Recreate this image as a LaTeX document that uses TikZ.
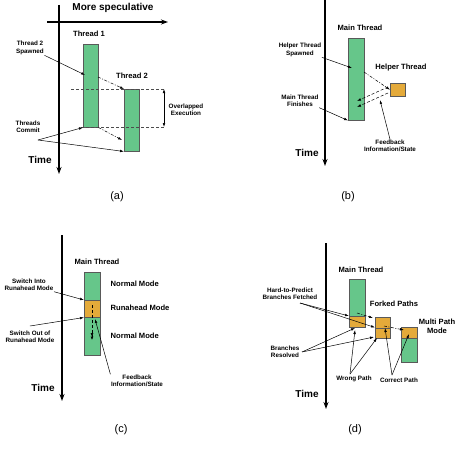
\documentclass[tikz,border=0pt]{standalone}
\usepackage{fontspec}
\setmainfont{Liberation Sans}
\usetikzlibrary{arrows.meta}
\definecolor{threadgreen}{RGB}{102,198,138}
\definecolor{modeorange}{RGB}{228,170,58}

\begin{document}
\begin{tikzpicture}[x=1pt, y=-1pt,
  lbl/.style={font=\fontsize{6.3}{7.4}\selectfont\bfseries, align=center, inner sep=0.5pt},
  head/.style={font=\fontsize{7.6}{9}\selectfont\bfseries, align=center, inner sep=0.5pt},
  big/.style={font=\fontsize{10}{12}\selectfont\bfseries, inner sep=0.5pt},
  sub/.style={font=\fontsize{11}{13}\selectfont, inner sep=0.5pt},
  axis/.style={line width=1.4pt, -{Stealth[length=7pt,width=5pt]}},
  ptr/.style={line width=0.5pt, -{Latex[length=4pt,width=2.6pt]}},
  spec/.style={ptr, dash pattern=on 3pt off 1.5pt on 1pt off 1.5pt},
  blk/.style={draw=black!65, line width=0.5pt, inner sep=0, minimum width=15pt, anchor=north west},
  gblk/.style={blk, fill=threadgreen},
  oblk/.style={blk, fill=modeorange},
  ]
\useasboundingbox (0,0) rectangle (474,452);

% (a) thread-level speculation
\coordinate (a0) at (59,5);
\coordinate (a1) at (59,174);
\coordinate (s0) at (47,22);
\coordinate (s1) at (168,22);
\draw[axis] (a0) -- (a1);
\draw[axis] (s0) -- (s1);
\node[big] (spec) at (113,8) {More speculative};
\node[big] (timea) at (40,160) {Time};
\node[gblk, minimum height=83pt] (t1) at (83,44) {};
\node[gblk, minimum height=62pt] (t2) at (124,89) {};
\node[head] (t1lbl) at (89,34) {Thread 1};
\node[head] (t2lbl) at (132,76) {Thread 2};
\coordinate (ov1l) at (71,89);
\coordinate (ov1r) at (165,89);
\coordinate (ov2l) at (81,127);
\coordinate (ov2r) at (165,127);
\draw[densely dashed, black!70, line width=0.4pt] (ov1l) -- (ov1r);
\draw[densely dashed, black!70, line width=0.4pt] (ov2l) -- (ov2r);
\draw[line width=0.5pt, {Latex[length=4pt,width=2.6pt]}-{Latex[length=4pt,width=2.6pt]}] (ov1r) ++(-1,0) coordinate (ovt) (ov2r) ++(-1,0) coordinate (ovb) (ovt) -- (ovb);
\node[lbl] (ovl) at (186,110) {Overlapped\\Execution};
\node[lbl] (spwn) at (30,48) {Thread 2\\Spawned};
\coordinate (t1sp) at (85,75);
\coordinate (t1spr) at (98,77);
\coordinate (t2end) at (122,140);
\draw[ptr] (spwn.south east) -- (t1sp);
\draw[spec] (t1spr) -- (t2.north west);
\draw[spec] (t1.south east) -- (t2end);
\node[lbl] (cmt) at (28,127) {Threads\\Commit};
\coordinate (cmo) at (38,140);
\draw[ptr] (cmo) -- (t1.south west);
\draw[ptr] (cmo) -- (t2.south west);
\node[sub] (capa) at (117,197) {(a)};

% (b) helper threads
\coordinate (b0) at (325,0);
\coordinate (b1) at (325,166);
\draw[axis] (b0) -- (b1);
\node[big] (timeb) at (307,153) {Time};
\node[gblk, minimum width=16pt, minimum height=82pt] (mtb) at (348,38) {};
\node[oblk, minimum height=13pt] (hlp) at (390,83) {};
\node[head] (mtblbl) at (360,28) {Main Thread};
\node[head] (hlplbl) at (401,68) {Helper Thread};
\node[lbl] (hspwn) at (300,50) {Helper Thread\\Spawned};
\coordinate (mtsp) at (352,68);
\coordinate (mtspr) at (364,72);
\draw[ptr] (hspwn.south east) -- (mtsp);
\draw[spec] (mtspr) -- (hlp.west);
\coordinate (fb1s) at (388,87);
\coordinate (fb1e) at (357,101);
\coordinate (fb2s) at (388,93);
\coordinate (fb2e) at (357,107);
\draw[ptr, densely dashed] (fb1s) -- (fb1e);
\draw[ptr, densely dashed] (fb2s) -- (fb2e);
\node[lbl] (fbb) at (390,146) {Feedback\\Information/State};
\coordinate (fbt) at (380,100);
\draw[ptr] (fbb.north) -- (fbt);
\node[lbl] (fin) at (300,101) {Main Thread\\Finishes};
\draw[ptr] (fin.south east) -- (mtb.south west);
\node[sub] (capb) at (348,197) {(b)};

% (c) runahead execution
\coordinate (c0) at (62,235);
\coordinate (c1) at (62,401);
\draw[axis] (c0) -- (c1);
\node[big] (timec) at (43,388) {Time};
\node[head] (mtclbl) at (97,262) {Main Thread};
\node[gblk, minimum width=16pt, minimum height=28pt] (nm1) at (84,272) {};
\node[oblk, minimum width=16pt, minimum height=17pt] (rh) at (84,300) {};
\node[gblk, minimum width=16pt, minimum height=38pt] (nm2) at (84,317) {};
\node[head, anchor=west] (nm1lbl) at (110,284) {Normal Mode};
\node[head, anchor=west] (rhlbl) at (110,308) {Runahead Mode};
\node[head, anchor=west] (nm2lbl) at (110,336) {Normal Mode};
\node[lbl] (swin) at (29,285) {Switch Into\\Runahead Mode};
\draw[ptr] (swin.south east) -- (rh.north west);
\node[lbl] (swout) at (30,337) {Switch Out of\\Runahead Mode};
\coordinate (swo) at (30,326);
\draw[ptr] (swo) -- (rh.south west);
\coordinate (rfb0) at (92,305);
\coordinate (rfb1) at (92,340);
\draw[line width=0.6pt, densely dashed, -{Latex[length=3.5pt,width=3pt]Latex[length=3.5pt,width=3pt]}] (rfb0) -- (rfb1);
\node[lbl] (fbc) at (137,381) {Feedback\\Information/State};
\coordinate (fbct) at (95,319);
\draw[ptr] (fbc.north west) -- (fbct);
\node[sub] (capc) at (121,430) {(c)};

% (d) multi-path execution
\coordinate (d0) at (326,243);
\coordinate (d1) at (326,409);
\draw[axis] (d0) -- (d1);
\node[big] (timed) at (307,394) {Time};
\node[head] (mtdlbl) at (361,270) {Main Thread};
\node[gblk, minimum width=16pt, minimum height=37pt] (mtd) at (349,279) {};
\node[oblk, minimum width=16pt, minimum height=11pt] (mto) at (349,316) {};
\node[oblk, minimum height=10.5pt] (fk1) at (375,317) {};
\node[oblk, minimum height=10.5pt] (fk2) at (375,327.5) {};
\node[oblk, minimum width=16pt, minimum height=11pt] (mpo) at (401,327) {};
\node[gblk, minimum width=16pt, minimum height=24pt] (mpg) at (401,338) {};
\node[head] (fklbl) at (394,304) {Forked Paths};
\node[head] (mplbl) at (437,326) {Multi Path\\Mode};
\node[lbl] (hard) at (290,294) {Hard-to-Predict\\Branches Fetched};
\coordinate (hdo) at (300,303);
\draw[ptr] (hdo) -- (mto.north west);
\draw[ptr] (hdo) -- (fk2.north west);
\coordinate (mtfk) at (357,313);
\coordinate (fkin) at (373,318);
\coordinate (fkmp) at (384,326);
\coordinate (mpin) at (404,330);
\draw[spec] (mtfk) -- (fkin);
\draw[spec] (fkmp) -- (mpin);
\node[lbl] (res) at (285,352) {Branches\\Resolved};
\coordinate (reso) at (302,352);
\coordinate (mtres) at (355,328);
\coordinate (fkres) at (374,337);
\draw[ptr] (reso) -- (mtres);
\draw[ptr] (reso) -- (fkres);
\node[lbl] (wrong) at (354,379) {Wrong Path};
\coordinate (wro) at (350,374);
\coordinate (mtwr) at (355,330);
\coordinate (fkwr) at (377,338);
\draw[ptr] (wro) -- (mtwr);
\draw[ptr] (wro) -- (fkwr);
\node[lbl] (right) at (399,380) {Correct Path};
\coordinate (cro) at (392,375);
\coordinate (fkcr) at (385,328);
\coordinate (mpcr) at (409,334);
\draw[ptr] (cro) -- (fkcr);
\draw[ptr] (cro) -- (mpcr);
\node[sub] (capd) at (355,430) {(d)};

\end{tikzpicture}
\end{document}
